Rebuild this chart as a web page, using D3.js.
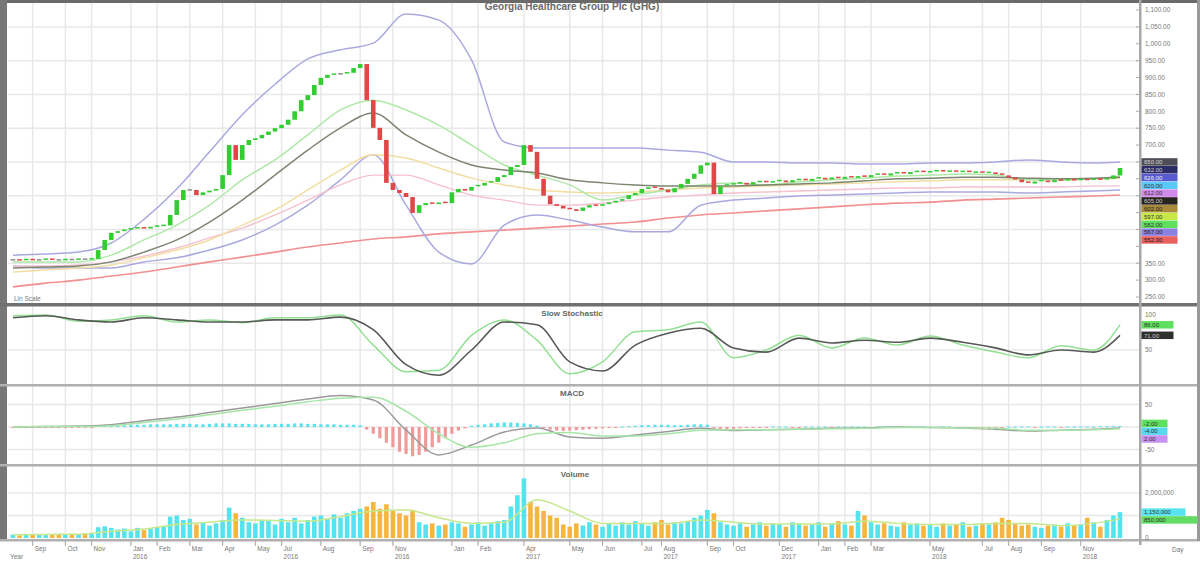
<!DOCTYPE html>
<html><head><meta charset="utf-8">
<script src="https://cdn.jsdelivr.net/npm/d3@7"></script>
<style>body{margin:0;background:#fff;} svg{display:block;font-family:"Liberation Sans",Arial,sans-serif;}</style>
</head><body><svg id="c" width="1200" height="562"></svg>
<script>
const chartTitle = "Georgia Healthcare Group Plc (GHG)";
const opens = [360,360,358,361,359,360,362,360,359,361,360,362,361,
 363,389,419,
 440,445,450,452,455,453,458,460,
 462,493,537,567,
 567,552,560,565,570,
 611,700,656,
 700,715,720,730,740,750,760,775,800,833,
 848,878,899,908,910,911,914,928,
 940,833,751,715,588,567,558,546,
 499,522,528,525,530,528,560,570,565,576,580,588,591,605,611,635,641,
 700,680,600,550,525,520,512,510,505,515,522,520,
 525,530,535,540,552,558,570,575,573,568,560,572,585,600,615,640,648,
 555,578,
 582,585,588,583,590,592,588,591,595,590,
 596,598,594,600,603,598,604,600,606,603,
 608,605,611,614,610,616,618,614,620,622,
 618,621,624,620,623,619,622,618,620,616,
 619,614,610,604,598,590,586,592,595,590,
 596,593,597,594,598,595,599,596,600,610];
const closes = [360,358,361,359,360,362,360,359,361,360,362,361,363,
 389,419,440,
 445,450,452,455,453,458,460,462,
 493,537,567,567,
 552,560,565,570,611,
 700,656,700,
 715,720,730,740,750,760,775,800,833,848,
 878,899,908,910,911,914,928,940,
 833,751,715,588,567,558,546,499,
 522,528,525,530,528,560,570,565,576,580,588,591,605,611,635,641,700,
 680,600,550,525,520,512,510,505,515,522,520,525,
 530,535,540,552,558,570,575,573,568,560,572,585,600,615,640,648,555,
 578,582,
 585,588,583,590,592,588,591,595,590,596,
 598,594,600,603,598,604,600,606,603,608,
 605,611,614,610,616,618,614,620,622,618,
 621,624,620,623,619,622,618,620,616,619,
 614,610,604,598,590,586,592,595,590,596,
 593,597,594,598,595,599,596,600,610,632];
const volumes = [150,120,180,140,160,130,170,150,140,180,160,200,190,
 480,520,450,
 380,420,300,450,350,400,480,520,
 950,1000,800,850,
 600,700,550,650,800,
 1350,1100,900,
 700,650,800,750,600,850,700,900,650,800,
 950,1000,850,1050,900,1100,1200,1300,
 1400,1600,1300,1500,1200,1100,1000,1250,
 700,600,650,550,600,700,650,500,600,700,550,650,750,800,1400,1900,2650,
 1600,1400,1200,1000,900,600,500,650,550,700,600,500,
 650,550,700,600,750,650,550,700,800,600,700,650,750,900,1000,1250,1100,
 700,600,
 550,650,500,600,700,550,650,600,500,700,
 650,550,600,700,500,650,750,600,550,1200,
 1000,700,600,650,550,500,700,600,650,550,
 600,500,650,550,600,700,500,550,650,600,
 700,900,800,650,550,600,500,450,550,600,
 500,650,550,600,900,700,500,800,1000,1150];
const macdHist = [-2,-2,-2,-2,-2,-2,-2,-2,-2,-2,-2,-2,-2,
 3,3,4,4,4,5,5,5,6,6,6,6,7,7,7,6,6,7,8,8,8,7,7,7,6,6,6,7,7,7,8,8,7,7,6,6,6,5,5,5,4,
 -6,-15,-25,-35,-45,-55,-60,-65,-62,-55,-45,-35,-25,-15,-8,-3,
 3,5,6,8,9,10,10,9,8,6,3,
 -3,-6,-8,-9,-8,-7,-6,-5,-4,-3,-2,-1,
 1,2,3,4,4,5,5,5,4,4,5,6,6,5,
 -2,-4,-5,-4,-3,-2,-2,-1,-1,
 1,1,1,-1,-1,1,1,1,1,-1, 1,1,1,1,1,-1,1,1,1,-1, -1,-1,1,1,-1,-1,1,1,-1,-1,
 -1,-2,-2,-2,-1,-1,1,1,1,1, -1,1,1,1,-1,1,1,1,1,1, 2,2,2,2];

const indIdx = [0,5,10,15,20,25,30,35,40,45,50,55,60,65,70,75,80,85,90,95,100,105,110,115,120,125,130,135,140,145,150,155,160,165,169];
const maLong = [280,291,300,312,324,339,354,368,383,398,410,422,428,437,443,448,454,460,466,472,484,493,499,505,511,517,523,528,531,537,540,543,546,549,552];
const maMid = [336,339,342,354,383,419,472,537,611,685,751,795,730,679,641,626,617,597,588,582,579,579,579,582,585,588,594,600,602,605,605,602,600,602,605];
const maShort = [354,354,354,374,419,463,522,597,656,730,804,833,804,759,700,641,611,582,537,552,567,582,588,582,591,597,602,608,611,614,611,597,597,600,608];
const maYellow = [324,330,336,345,366,389,419,463,508,567,626,671,662,632,602,582,567,561,558,561,567,573,576,579,582,585,588,591,594,597,597,597,597,600,602];
const maPink = [342,342,345,354,371,395,425,454,493,537,582,611,611,582,552,537,522,522,528,537,546,552,558,561,564,567,570,573,573,576,576,576,576,579,579];
const bbUpper = [374,377,383,410,480,570,680,790,880,955,982,1002,1088,1070,952,709,691,691,691,691,685,679,650,650,647,647,644,644,647,647,650,656,650,647,650];
const bbLower = [342,336,336,336,354,366,389,419,463,522,597,671,522,383,348,463,493,478,457,443,443,522,537,543,549,552,555,558,561,561,561,558,561,564,567];
const stochD = [96,99,93,90,96,93,90,90,93,93,97,79,29,14,50,90,86,33,20,57,74,81,53,47,67,60,64,61,67,61,53,43,50,47,71];
const stochK = [99,100,91,93,99,90,93,89,96,96,100,57,19,21,71,93,64,16,33,76,79,90,39,50,71,53,67,57,70,57,47,39,56,50,86];
const macdLine = [0,1,2,5,14,22,32,42,52,62,70,60,-7,-62,-40,-11,-2,-22,-25,-18,-10,-3,-8,-6,-5,-3,-2,0,-1,-2,-5,-9,-7,-5,-2];
const macdSignal = [0,1,1,3,10,18,27,37,46,56,64,66,35,-15,-45,-35,-15,-12,-20,-20,-15,-7,-6,-6,-5,-4,-3,-1,-1,-2,-3,-7,-7,-6,-4];
const volMA = [150,160,170,300,400,600,700,800,780,750,950,1200,1250,900,650,700,1700,1200,650,650,650,800,700,620,620,620,750,650,600,600,650,650,550,650,850];

const priceTicks = [1100,1050,1000,950,900,850,800,750,700,650,600,550,500,450,400,350,300,250];
const priceGrid = [1050,950,850,750,650,550,450,350];
const stochTicks = [100,50];
const macdTicks = [50,-50];
const volTicks = [2000,0];
const xTickIdx = [3,8,12,18,22,27,32,37,41,47,53,58,67,71,78,85,90,96,99,106,110,117,123,127,131,140,148,152,157,163];
const xTickMon = ["Sep","Oct","Nov","Jan","Feb","Mar","Apr","May","Jul","Aug","Sep","Nov","Jan","Feb","Apr","May","Jun","Jul","Aug","Sep","Oct","Dec","Jan","Feb","Mar","May","Jul","Aug","Sep","Nov"];
const xTickYear2 = {18:"2016",41:"2016",58:"2016",78:"2017",99:"2017",117:"2017",140:"2018",163:"2018"};

const mainBoxes = [
 {v:650,c:"#4d4d57",t:"#ddd"},{v:632,c:"#2c2c66",t:"#ccc"},{v:626,c:"#5a5ad0",t:"#eee"},
 {v:620,c:"#5cc8f8",t:"#333"},{v:612,c:"#d08ae8",t:"#333"},{v:605,c:"#2a2420",t:"#ccc"},
 {v:602,c:"#a88a3a",t:"#222"},{v:597,c:"#c8e848",t:"#333"},{v:582,c:"#5ee05e",t:"#333"},
 {v:567,c:"#8c80e0",t:"#222"},{v:552,c:"#e86060",t:"#222"}];
const macdBoxes = [
 {v:2,c:"#5ee05e",t:"#333",label:"-2.00"},{v:0,c:"#58d8ee",t:"#333",label:"-4.00"},{v:-2,c:"#c890f0",t:"#333",label:"2.00"}];

const svg = d3.select("#c");
const X0 = 8, X1 = 1139;
const x = d3.scaleLinear().domain([0,169]).range([13,1120]);
const yP = d3.scaleLinear().domain([250,1100]).range([297,10]);
const yS = d3.scaleLinear().domain([0,100]).range([385,315]);
const yM = d3.scaleLinear().domain([-50,50]).range([449.5,404.5]);
const yV = d3.scaleLinear().domain([0,2000]).range([538,493]);

svg.append("rect").attr("width",1200).attr("height",562).attr("fill","#fff");

const gGrid = svg.append("g").attr("stroke","#e8e8e8").attr("stroke-width",1.5);
xTickIdx.forEach(i=>{
  gGrid.append("line").attr("x1",x(i)).attr("x2",x(i)).attr("y1",3).attr("y2",545);
});
priceGrid.forEach(v=>gGrid.append("line").attr("x1",X0).attr("x2",X1).attr("y1",yP(v)).attr("y2",yP(v)));
[50].forEach(v=>gGrid.append("line").attr("x1",X0).attr("x2",X1).attr("y1",yS(v)).attr("y2",yS(v)));
[50,0,-50].forEach(v=>gGrid.append("line").attr("x1",X0).attr("x2",X1).attr("y1",yM(v)).attr("y2",yM(v)));
[2000,1000].forEach(v=>gGrid.append("line").attr("x1",X0).attr("x2",X1).attr("y1",yV(v)).attr("y2",yV(v)));

const frame = svg.append("g");
frame.append("rect").attr("x",0).attr("y",0).attr("width",1200).attr("height",3).attr("fill","#6a6a6a");
frame.append("rect").attr("x",0).attr("y",0).attr("width",7).attr("height",541).attr("fill","#777");
frame.append("rect").attr("x",0).attr("y",303).attr("width",1200).attr("height",3.5).attr("fill","#707070");
frame.append("rect").attr("x",0).attr("y",384).attr("width",1200).attr("height",2.5).attr("fill","#b0b0b0");
frame.append("rect").attr("x",0).attr("y",464).attr("width",1200).attr("height",2.5).attr("fill","#b0b0b0");
frame.append("rect").attr("x",0).attr("y",539).attr("width",1200).attr("height",2.5).attr("fill","#b0b0b0");
frame.append("rect").attr("x",X1).attr("y",0).attr("width",2.5).attr("height",545).attr("fill","#a8a8a8");
frame.append("rect").attr("x",1197).attr("y",0).attr("width",3).attr("height",541).attr("fill","#9a9a9a");

const pts = arr => indIdx.map((k,j)=>[k,arr[j]]);
function drawLine(arr, yScale, color, w){
  svg.append("path").datum(pts(arr))
    .attr("fill","none").attr("stroke",color).attr("stroke-width",w||1.5)
    .attr("d", d3.line().x(d=>x(d[0])).y(d=>yScale(d[1])).curve(d3.curveMonotoneX));
}

drawLine(maLong, yP, "#f29090", 1.6);
drawLine(bbUpper, yP, "#a9a9e0", 1.5);
drawLine(bbLower, yP, "#a9a9e0", 1.5);
drawLine(maPink, yP, "#f5c0cf", 1.4);
drawLine(maYellow, yP, "#f2dea2", 1.5);
drawLine(maShort, yP, "#aee8a6", 1.5);
drawLine(maMid, yP, "#7d8572", 1.5);

const cw = 4.6;
const candleColor = i => {
  const d = closes[i]-opens[i];
  if (Math.abs(d) < 2) return "#8c8c8c";
  return d > 0 ? "#33cc33" : "#e04848";
};
svg.append("g").selectAll("rect").data(d3.range(closes.length)).join("rect")
  .attr("x", i=>x(i)-cw/2)
  .attr("y", i=>Math.min(yP(opens[i]),yP(closes[i])) - (Math.abs(yP(opens[i])-yP(closes[i]))<1.5?0.75:0))
  .attr("width", cw)
  .attr("height", i=>Math.max(1.5, Math.abs(yP(opens[i])-yP(closes[i]))))
  .attr("fill", candleColor);

drawLine(stochK, yS, "#92e092", 1.5);
drawLine(stochD, yS, "#555a55", 1.6);

svg.append("g").selectAll("rect").data(d3.range(macdHist.length)).join("rect")
  .attr("x", i=>x(i)-1.6).attr("width",3.2)
  .attr("y", i=>Math.min(yM(0),yM(macdHist[i])))
  .attr("height", i=>Math.max(1,Math.abs(yM(macdHist[i])-yM(0))))
  .attr("fill", i=>macdHist[i]>=0 ? "#58e2ef" : "#f29a9a");
drawLine(macdLine, yM, "#9a9a9a", 1.5);
drawLine(macdSignal, yM, "#a6e6a6", 1.5);

svg.append("g").selectAll("rect").data(d3.range(volumes.length)).join("rect")
  .attr("x", i=>x(i)-cw/2).attr("width",cw)
  .attr("y", i=>yV(volumes[i])).attr("height", i=>yV(0)-yV(volumes[i]))
  .attr("fill", i=>closes[i]>=opens[i] ? "#55e4ee" : "#f5b640");
drawLine(volMA, yV, "#c6e88c", 1.5);

const tcol = "#666";
svg.append("text").attr("x",572).attr("y",10).attr("text-anchor","middle").attr("font-size",10).attr("font-weight","bold").attr("fill","#6a6a6a").text(chartTitle);
svg.append("text").attr("x",572).attr("y",316).attr("text-anchor","middle").attr("font-size",8).attr("font-weight","bold").attr("fill",tcol).text("Slow Stochastic");
svg.append("text").attr("x",572).attr("y",396).attr("text-anchor","middle").attr("font-size",8).attr("font-weight","bold").attr("fill",tcol).text("MACD");
svg.append("text").attr("x",575).attr("y",477).attr("text-anchor","middle").attr("font-size",8).attr("font-weight","bold").attr("fill",tcol).text("Volume");
svg.append("text").attr("x",14).attr("y",301).attr("font-size",6.5).attr("fill","#777").text("Lin Scale");

const fmt = d3.format(",.2f");
// stacked value boxes: compute layout first
function layoutBoxes(items, yScale, bh, keepOrder){
  const arr = keepOrder ? items.slice() : items.slice().sort((a,b)=>yScale(a.v)-yScale(b.v));
  let prev = -1e9;
  arr.forEach(it=>{ it.y = Math.max(yScale(it.v), prev + bh + 0.3); prev = it.y; });
  return arr;
}
function drawBoxes(arr, bh, width){
  arr.forEach(it=>{
    svg.append("rect").attr("x",1141.5).attr("y",it.y-bh/2).attr("width",it.w||width).attr("height",bh).attr("fill",it.c);
    svg.append("text").attr("x",1144).attr("y",it.y+2.2).attr("font-size",6).attr("fill",it.t).text(it.label||fmt(it.v));
  });
}
const bh = 7.5;
const mainL = layoutBoxes(mainBoxes, yP, bh);
const boxTop = d3.min(mainL, d=>d.y) - bh/2 - 4, boxBot = d3.max(mainL, d=>d.y) + bh/2 + 4;

const ax = svg.append("g").attr("font-size",6.5).attr("fill","#777");
priceTicks.forEach(v=>{
  ax.append("line").attr("x1",X1-3).attr("x2",X1).attr("y1",yP(v)).attr("y2",yP(v)).attr("stroke","#aaa");
  if (yP(v) > boxTop && yP(v) < boxBot) return;
  ax.append("text").attr("x",1145).attr("y",yP(v)+2.3).text(fmt(v));
});
stochTicks.forEach(v=>ax.append("text").attr("x",1145).attr("y",yS(v)+2.3).text(v));
macdTicks.forEach(v=>ax.append("text").attr("x",1145).attr("y",yM(v)+2.3).text(v));
volTicks.forEach(v=>ax.append("text").attr("x",1145).attr("y",yV(v)+2.3).text(d3.format(",")(v*1000)));

drawBoxes(mainL, bh, 36);
drawBoxes(layoutBoxes([{v:stochK[stochK.length-1],c:"#5ee05e",t:"#333"},{v:stochD[stochD.length-1],c:"#2e302e",t:"#ccc"}], yS, bh), bh, 32);
drawBoxes(layoutBoxes(macdBoxes.map(d=>Object.assign({},d,{v:d.v+6})), yM, bh, true), bh, 26);
drawBoxes(layoutBoxes([{v:volumes[volumes.length-1],c:"#58e4ee",t:"#333",label:"1,150,000",w:44},{v:volMA[volMA.length-1],c:"#62dc62",t:"#333",label:"850,000",w:56}], yV, bh), bh, 44);

const xl = svg.append("g").attr("font-size",6.5).attr("fill","#777");
xTickIdx.forEach((i,j)=>{
  xl.append("line").attr("x1",x(i)).attr("x2",x(i)).attr("y1",541).attr("y2",546).attr("stroke","#aaa");
  xl.append("text").attr("x",x(i)+2).attr("y",551).text(xTickMon[j]);
  if (xTickYear2[i]) xl.append("text").attr("x",x(i)+2).attr("y",559).text(xTickYear2[i]);
});
xl.append("text").attr("x",10).attr("y",559).text("Year");
xl.append("text").attr("x",1172).attr("y",552).text("Day");
</script></body></html>
